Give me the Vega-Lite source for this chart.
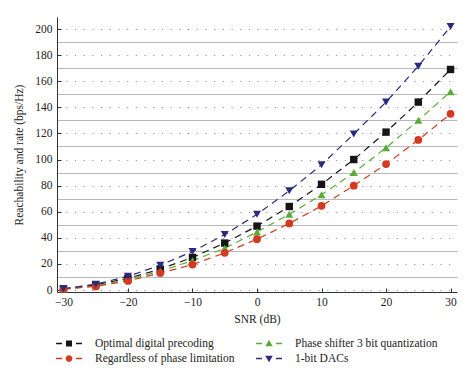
{
  "$schema": "https://vega.github.io/schema/vega-lite/v6.json",
  "autosize": {"type": "none"},
  "width": 400,
  "height": 275,
  "padding": {"left": 57, "top": 17, "right": 17, "bottom": 88},
  "background": "white",
  "config": {
    "font": "Liberation Serif",
    "view": {"stroke": null},
    "axis": {"labelFont": "Liberation Serif", "titleFont": "Liberation Serif", "labelFontSize": 11.5, "titleFontSize": 11.5, "labelColor": "#222", "titleColor": "#222", "titleFontWeight": "normal", "domainColor": "#333", "tickColor": "#333"},
    "legend": {"labelFont": "Liberation Serif", "labelFontSize": 11.5, "labelColor": "#222", "orient": "none", "legendX": 4.5, "legendY": 319, "columns": 2, "direction": "horizontal", "title": null, "symbolSize": 225, "symbolOpacity": 1, "symbolStrokeWidth": 0, "labelOffset": 18.5, "columnPadding": 20, "rowPadding": 2, "labelLimit": 300}
  },
  "data": {
    "values": [
      {"snr": -30, "series": "Optimal digital precoding", "rate": 1},
      {"snr": -25, "series": "Optimal digital precoding", "rate": 4},
      {"snr": -20, "series": "Optimal digital precoding", "rate": 9},
      {"snr": -15, "series": "Optimal digital precoding", "rate": 16},
      {"snr": -10, "series": "Optimal digital precoding", "rate": 25},
      {"snr": -5, "series": "Optimal digital precoding", "rate": 36},
      {"snr": 0, "series": "Optimal digital precoding", "rate": 49},
      {"snr": 5, "series": "Optimal digital precoding", "rate": 64},
      {"snr": 10, "series": "Optimal digital precoding", "rate": 81},
      {"snr": 15, "series": "Optimal digital precoding", "rate": 100},
      {"snr": 20, "series": "Optimal digital precoding", "rate": 121},
      {"snr": 25, "series": "Optimal digital precoding", "rate": 144},
      {"snr": 30, "series": "Optimal digital precoding", "rate": 169},
      {"snr": -30, "series": "Phase shifter 3 bit quantization", "rate": 0.8},
      {"snr": -25, "series": "Phase shifter 3 bit quantization", "rate": 3.2},
      {"snr": -20, "series": "Phase shifter 3 bit quantization", "rate": 8},
      {"snr": -15, "series": "Phase shifter 3 bit quantization", "rate": 14.5},
      {"snr": -10, "series": "Phase shifter 3 bit quantization", "rate": 22.5},
      {"snr": -5, "series": "Phase shifter 3 bit quantization", "rate": 32},
      {"snr": 0, "series": "Phase shifter 3 bit quantization", "rate": 44.5},
      {"snr": 5, "series": "Phase shifter 3 bit quantization", "rate": 58},
      {"snr": 10, "series": "Phase shifter 3 bit quantization", "rate": 73},
      {"snr": 15, "series": "Phase shifter 3 bit quantization", "rate": 90},
      {"snr": 20, "series": "Phase shifter 3 bit quantization", "rate": 109},
      {"snr": 25, "series": "Phase shifter 3 bit quantization", "rate": 130},
      {"snr": 30, "series": "Phase shifter 3 bit quantization", "rate": 152},
      {"snr": -30, "series": "Regardless of phase limitation", "rate": 0.7},
      {"snr": -25, "series": "Regardless of phase limitation", "rate": 2.8},
      {"snr": -20, "series": "Regardless of phase limitation", "rate": 7},
      {"snr": -15, "series": "Regardless of phase limitation", "rate": 13},
      {"snr": -10, "series": "Regardless of phase limitation", "rate": 19.5},
      {"snr": -5, "series": "Regardless of phase limitation", "rate": 28.5},
      {"snr": 0, "series": "Regardless of phase limitation", "rate": 39},
      {"snr": 5, "series": "Regardless of phase limitation", "rate": 51},
      {"snr": 10, "series": "Regardless of phase limitation", "rate": 64.5},
      {"snr": 15, "series": "Regardless of phase limitation", "rate": 80},
      {"snr": 20, "series": "Regardless of phase limitation", "rate": 96.5},
      {"snr": 25, "series": "Regardless of phase limitation", "rate": 115},
      {"snr": 30, "series": "Regardless of phase limitation", "rate": 135},
      {"snr": -30, "series": "1-bit DACs", "rate": 1},
      {"snr": -25, "series": "1-bit DACs", "rate": 4.5},
      {"snr": -20, "series": "1-bit DACs", "rate": 10.5},
      {"snr": -15, "series": "1-bit DACs", "rate": 19},
      {"snr": -10, "series": "1-bit DACs", "rate": 29.5},
      {"snr": -5, "series": "1-bit DACs", "rate": 42.5},
      {"snr": 0, "series": "1-bit DACs", "rate": 58},
      {"snr": 5, "series": "1-bit DACs", "rate": 76},
      {"snr": 10, "series": "1-bit DACs", "rate": 96},
      {"snr": 15, "series": "1-bit DACs", "rate": 119.5},
      {"snr": 20, "series": "1-bit DACs", "rate": 144},
      {"snr": 25, "series": "1-bit DACs", "rate": 171.5},
      {"snr": 30, "series": "1-bit DACs", "rate": 202}
    ]
  },
  "encoding": {
    "x": {
      "field": "snr", "type": "quantitative",
      "scale": {"domain": [-31, 31], "nice": false, "zero": false},
      "axis": {"title": "SNR (dB)", "values": [-30, -20, -10, 0, 10, 20, 30], "grid": false, "tickSize": -4, "labelPadding": 8, "titlePadding": 6}
    },
    "y": {
      "field": "rate", "type": "quantitative",
      "scale": {"domain": [-1.5, 209.2], "nice": false, "zero": false},
      "axis": {
        "title": "Reachability and rate (bps/Hz)",
        "values": [0, 10, 20, 30, 40, 50, 60, 70, 80, 90, 100, 110, 120, 130, 140, 150, 160, 170, 180, 190, 200],
        "labelExpr": "datum.value % 20 === 0 ? datum.label : ''",
        "tickSize": -4,
        "labelPadding": 9,
        "titlePadding": 10,
        "tickOpacity": {"condition": {"test": "datum.value % 20 === 0", "value": 1}, "value": 0},
        "grid": true,
        "gridColor": {"condition": {"test": "datum.value % 20 === 0", "value": "#999999"}, "value": "#b8b8c0"},
        "gridDash": {"condition": {"test": "datum.value % 20 === 0", "value": [1.2, 7.5]}, "value": []},
        "gridWidth": 1
      }
    }
  },
  "layer": [
    {
      "transform": [{"filter": "datum.series === 'Optimal digital precoding'"}],
      "mark": {"type": "line", "strokeDash": [7, 5], "strokeWidth": 1.2, "color": "#151515"}
    },
    {
      "transform": [{"filter": "datum.series === 'Phase shifter 3 bit quantization'"}],
      "mark": {"type": "line", "strokeDash": [7, 5], "strokeWidth": 1.2, "color": "#5aac3a"}
    },
    {
      "transform": [{"filter": "datum.series === 'Regardless of phase limitation'"}],
      "mark": {"type": "line", "strokeDash": [7, 5], "strokeWidth": 1.2, "color": "#d5391f"}
    },
    {
      "transform": [{"filter": "datum.series === '1-bit DACs'"}],
      "mark": {"type": "line", "strokeDash": [7, 5], "strokeWidth": 1.2, "color": "#2c2a7e"}
    },
    {
      "transform": [{"filter": "datum.series === 'Optimal digital precoding'"}],
      "mark": {"type": "point", "filled": true, "opacity": 1, "shape": "square", "size": 55, "color": "#151515"}
    },
    {
      "transform": [{"filter": "datum.series === 'Phase shifter 3 bit quantization'"}],
      "mark": {"type": "point", "filled": true, "opacity": 1, "shape": "triangle-up", "size": 65, "color": "#5aac3a"}
    },
    {
      "transform": [{"filter": "datum.series === 'Regardless of phase limitation'"}],
      "mark": {"type": "point", "filled": true, "opacity": 1, "shape": "circle", "size": 60, "color": "#d5391f"}
    },
    {
      "transform": [{"filter": "datum.series === '1-bit DACs'"}],
      "mark": {"type": "point", "filled": true, "opacity": 1, "shape": "triangle-down", "size": 65, "color": "#2c2a7e"}
    },
    {
      "mark": {"type": "point", "filled": true, "opacity": 0},
      "encoding": {
        "color": {"field": "series", "type": "nominal",
          "scale": {"domain": ["Optimal digital precoding", "Phase shifter 3 bit quantization", "Regardless of phase limitation", "1-bit DACs"], "range": ["#151515", "#5aac3a", "#d5391f", "#2c2a7e"]}},
        "shape": {"field": "series", "type": "nominal",
          "scale": {"domain": ["Optimal digital precoding", "Phase shifter 3 bit quantization", "Regardless of phase limitation", "1-bit DACs"],
            "range": [
              "M-1.73,-0.1H-0.93V0.1H-1.73ZM0.93,-0.1H1.73V0.1H0.93ZM-0.4,-0.4H0.4V0.4H-0.4Z",
              "M-1.73,-0.1H-0.93V0.1H-1.73ZM0.93,-0.1H1.73V0.1H0.93ZM0,-0.5L0.5,0.38H-0.5Z",
              "M-1.73,-0.1H-0.93V0.1H-1.73ZM0.93,-0.1H1.73V0.1H0.93ZM-0.45,0A0.45,0.45,0,1,0,0.45,0A0.45,0.45,0,1,0,-0.45,0Z",
              "M-1.73,-0.1H-0.93V0.1H-1.73ZM0.93,-0.1H1.73V0.1H0.93ZM0,0.5L0.5,-0.38H-0.5Z"
            ]}}
      }
    }
  ]
}
